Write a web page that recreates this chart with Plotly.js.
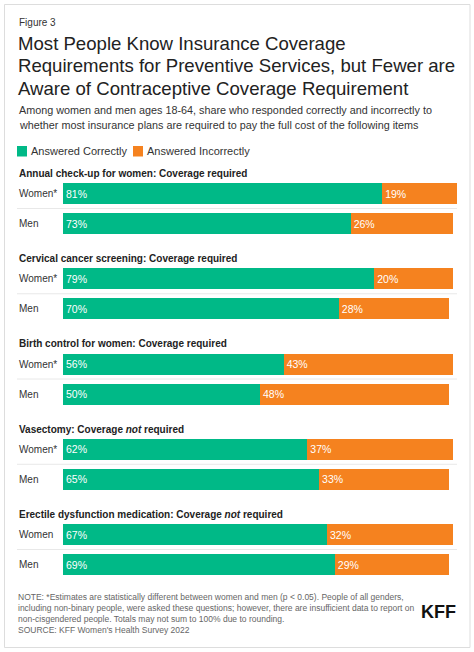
<!DOCTYPE html>
<html>
<head>
<meta charset="utf-8">
<script src="https://cdn.plot.ly/plotly-3.0.1.min.js"></script>
<style>html,body{margin:0;padding:0;background:#fff;}#chart{width:474px;height:652px;}</style>
</head>
<body>
<div id="chart"></div>
<script>
const groupTitles = [
  "Annual check-up for women: Coverage required",
  "Cervical cancer screening: Coverage required",
  "Birth control for women: Coverage required",
  "Vasectomy: Coverage <i>not</i> required",
  "Erectile dysfunction medication: Coverage <i>not</i> required"
];
const rowLabels = [
  ["Women*", "Men"],
  ["Women*", "Men"],
  ["Women*", "Men"],
  ["Women*", "Men"],
  ["Women", "Men"]
];
const answeredCorrectly = [[81, 73], [79, 70], [56, 50], [62, 65], [67, 69]];
const answeredIncorrectly = [[19, 26], [20, 28], [43, 48], [37, 33], [32, 29]];
const seriesNames = ["Answered Correctly", "Answered Incorrectly"];

const titleLines = [
  "Most People Know Insurance Coverage",
  "Requirements for Preventive Services, but Fewer are",
  "Aware of Contraceptive Coverage Requirement"
];
const subtitleLines = [
  "Among women and men ages 18-64, share who responded correctly and incorrectly to",
  "whether most insurance plans are required to pay the full cost of the following items"
];
const noteLines = [
  "NOTE: *Estimates are statistically different between women and men (p < 0.05). People of all genders,",
  "including non-binary people, were asked these questions; however, there are insufficient data to report on",
  "non-cisgendered people. Totals may not sum to 100% due to rounding.",
  "SOURCE: KFF Women's Health Survey 2022"
];

const W = 474, H = 652;
const FONT = "Liberation Sans, Arial, Helvetica, sans-serif";
const GREEN = "#00b987", ORANGE = "#f5821f";
const px = x => x / W;
const py = y => 1 - y / H;

const traces = [];
const annotations = [];
const shapes = [];
const layout = {
  width: W, height: H,
  margin: {l: 0, r: 0, t: 0, b: 0},
  paper_bgcolor: "#fff", plot_bgcolor: "rgba(0,0,0,0)",
  barmode: "stack",
  showlegend: false,
  font: {family: FONT, color: "#333"},
  annotations: annotations,
  shapes: shapes
};

const xLeft = 63, xRight = 457;
const firstCenter = 193.5, groupStep = 85.25, rowStep = 30;

groupTitles.forEach((gt, g) => {
  const suffix = g === 0 ? "" : String(g + 1);
  const yName = "y" + suffix, xName = "x" + suffix;
  const top = firstCenter + g * groupStep - rowStep / 2;
  const bottom = top + 2 * rowStep;
  layout["yaxis" + suffix] = {
    domain: [py(bottom), py(top)],
    type: "category",
    categoryorder: "array",
    categoryarray: rowLabels[g],
    autorange: "reversed",
    showticklabels: false, showgrid: false, zeroline: false, showline: false, ticks: "",
    anchor: xName, fixedrange: true
  };
  layout["xaxis" + suffix] = {
    domain: [px(xLeft), px(xRight)],
    range: [0, 100],
    showticklabels: false, showgrid: false, zeroline: false, showline: false, ticks: "",
    anchor: yName, fixedrange: true
  };
  [answeredCorrectly, answeredIncorrectly].forEach((vals, s) => {
    traces.push({
      type: "bar", orientation: "h",
      name: seriesNames[s],
      x: vals[g], y: rowLabels[g],
      xaxis: xName, yaxis: yName,
      width: 0.7,
      marker: {color: s === 0 ? GREEN : ORANGE, line: {width: 0}},
      text: vals[g].map(v => v + "%"),
      textposition: "inside", insidetextanchor: "start",
      textfont: {family: FONT, size: 10.5, color: "#fff"},
      cliponaxis: false,
      hoverinfo: "skip"
    });
  });
  // group heading
  annotations.push({
    xref: "paper", yref: "paper", x: px(17), y: py(firstCenter + g * groupStep - 20),
    xanchor: "left", yanchor: "middle", showarrow: false,
    text: "<b>" + gt + "</b>", font: {family: FONT, size: 10, color: "#222"}
  });
  // row labels
  rowLabels[g].forEach(lbl => {
    annotations.push({
      xref: "paper", yref: yName, x: px(17), y: lbl,
      xanchor: "left", yanchor: "middle", showarrow: false,
      text: lbl, font: {family: FONT, size: 10, color: "#333"}
    });
  });
  // separator
  shapes.push({
    type: "line", xref: "paper", yref: yName,
    x0: px(17), x1: px(xRight), y0: 0.5, y1: 0.5,
    line: {color: "#e8e8e8", width: 1}
  });
});

// border
shapes.push({type: "rect", xref: "paper", yref: "paper", x0: px(4.5), x1: px(470), y0: py(647.5), y1: py(4.5),
  line: {color: "#dddddd", width: 1}, fillcolor: "rgba(0,0,0,0)"});

// figure label
annotations.push({xref: "paper", yref: "paper", x: px(17), y: py(22), xanchor: "left", yanchor: "middle",
  showarrow: false, text: "Figure 3", font: {family: FONT, size: 10, color: "#333"}});
titleLines.forEach((t, i) => annotations.push({xref: "paper", yref: "paper", x: px(16), y: py(43.5 + i * 22.5),
  xanchor: "left", yanchor: "middle", showarrow: false, text: t, font: {family: FONT, size: 18.6, color: "#222"}}));
subtitleLines.forEach((t, i) => annotations.push({xref: "paper", yref: "paper", x: px(17), y: py(110 + i * 15),
  xanchor: "left", yanchor: "middle", showarrow: false, text: t, font: {family: FONT, size: 10.8, color: "#333"}}));

// legend
const legendItems = [{x: 17, color: GREEN}, {x: 133, color: ORANGE}];
legendItems.forEach((it, i) => {
  shapes.push({type: "rect", xref: "paper", yref: "paper", x0: px(it.x), x1: px(it.x + 10), y0: py(156.5), y1: py(146),
    line: {width: 0}, fillcolor: it.color});
  annotations.push({xref: "paper", yref: "paper", x: px(it.x + 12), y: py(151), xanchor: "left", yanchor: "middle",
    showarrow: false, text: seriesNames[i], font: {family: FONT, size: 11, color: "#333"}});
});

// notes
noteLines.forEach((t, i) => annotations.push({xref: "paper", yref: "paper", x: px(16), y: py(596.5 + i * 11.2),
  xanchor: "left", yanchor: "middle", showarrow: false, text: t, font: {family: FONT, size: 8.5, color: "#666"}}));

// logo text
annotations.push({xref: "paper", yref: "paper", x: px(458), y: py(612), xanchor: "right", yanchor: "middle",
  showarrow: false, text: "<b>KFF</b>", font: {family: FONT, size: 18, color: "#111"}});

Plotly.newPlot("chart", traces, layout, {displayModeBar: false, staticPlot: true});
</script>
</body>
</html>
